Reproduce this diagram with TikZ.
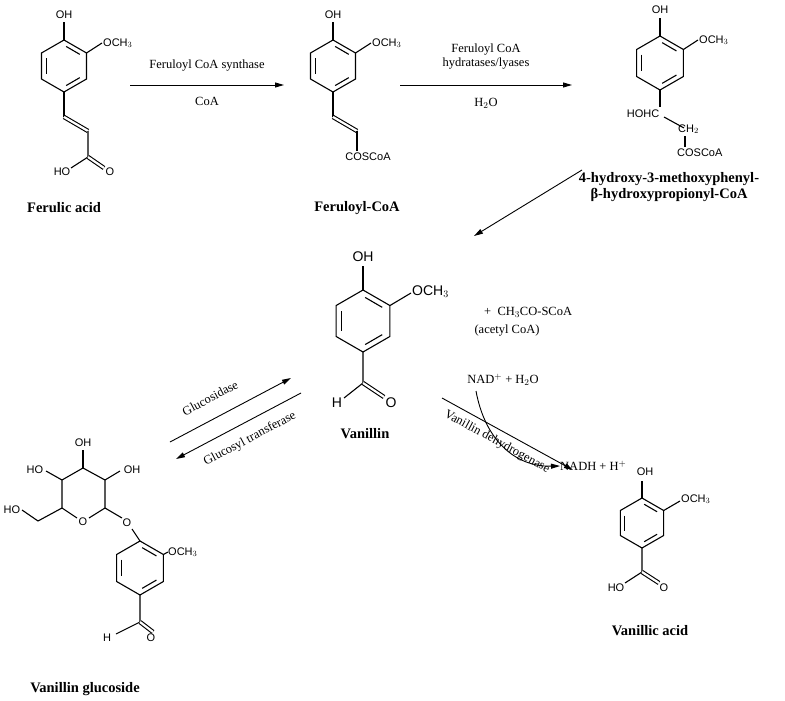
\documentclass[tikz,border=0pt]{standalone}
\usepackage{fontspec}
\setmainfont{Liberation Serif}
\setsansfont{Liberation Sans}
\usetikzlibrary{arrows.meta}
\tikzset{bond/.style={line width=1.1pt},
  dbl/.style={bond,double,double distance=2.2pt},
  atom/.style={inner sep=0pt,font=\sffamily\fontsize{11}{11}\selectfont},
  batom/.style={inner sep=0pt,font=\sffamily\fontsize{14}{14}\selectfont},
  cname/.style={inner sep=0pt,font=\bfseries\fontsize{14.5}{16}\selectfont,align=center},
  lbl/.style={inner sep=0pt,font=\fontsize{12.5}{14}\selectfont,align=center},
  arrow/.style={line width=0.9pt,-{Triangle[length=9pt,width=5pt]}}}
% benzene ring with vertex up: centre x, centre y, radius
\newcommand\benz[3]{%
  \draw[bond] (#1,#2-#3) -- (#1+0.866*#3,#2-0.5*#3) -- (#1+0.866*#3,#2+0.5*#3)
    -- (#1,#2+#3) -- (#1-0.866*#3,#2+0.5*#3) -- (#1-0.866*#3,#2-0.5*#3) -- cycle;
  \draw[bond,shorten <=2.5pt,shorten >=2.5pt] (#1-0.69*#3,#2-0.4*#3) -- (#1-0.69*#3,#2+0.4*#3);
  \draw[bond,shorten <=2.5pt,shorten >=2.5pt] (#1,#2-0.8*#3) -- (#1+0.69*#3,#2-0.4*#3);
  \draw[bond,shorten <=2.5pt,shorten >=2.5pt] (#1+0.69*#3,#2+0.4*#3) -- (#1,#2+0.8*#3);
}
\begin{document}
\begin{tikzpicture}[x=1pt,y=-1pt]
\useasboundingbox (0,0) rectangle (785,701);
% Ferulic acid
\benz{64}{66}{26}
\draw[bond] (64,40) -- (64,22);
\node[atom] (fa-oh) at (64,15) {OH};
\draw[bond] (86.5,53) -- (102,43);
\node[atom,anchor=west] (fa-och) at (103,43) {OCH$_3$};
\draw[bond] (64,92) -- (64,117);
\draw[dbl] (64,117) -- (88,131);
\draw[bond] (88,131) -- (88,157) -- (71,168);
\draw[dbl] (88,157) -- (104,168);
\node[atom] (fa-ho) at (62,172) {HO};
\node[atom] (fa-o) at (110,172) {O};
\node[cname] (ferulic) at (64,208) {Ferulic acid};
% Feruloyl-CoA
\benz{333}{66}{26}
\draw[bond] (333,40) -- (333,22);
\node[atom] (fc-oh) at (333,15) {OH};
\draw[bond] (355.5,53) -- (371,43);
\node[atom,anchor=west] (fc-och) at (372,43) {OCH$_3$};
\draw[bond] (333,92) -- (333,117);
\draw[dbl] (333,117) -- (357,131);
\draw[bond] (357,131) -- (357,151);
\node[atom] (fc-cos) at (368,157) {COSCoA};
\node[cname] (feruloyl) at (357,208) {Feruloyl-CoA};
% 4-hydroxy-3-methoxyphenyl-beta-hydroxypropionyl-CoA
\benz{660}{63}{27}
\draw[bond] (660,36) -- (660,18);
\node[atom] (hp-oh) at (660,10) {OH};
\draw[bond] (683.4,49.5) -- (698,40);
\node[atom,anchor=west] (hp-och) at (699,40) {OCH$_3$};
\draw[bond] (660,90) -- (660,107);
\node[atom] (hp-hohc) at (643,114) {HOHC};
\draw[bond] (664,117) -- (684,128);
\node[atom,anchor=west] (hp-ch) at (678,129) {CH$_2$};
\draw[bond] (685,136) -- (685,147);
\node[atom,anchor=west] (hp-cos) at (677,153) {COSCoA};
\node[cname] (hydroxy) at (669,187) {4-hydroxy-3-methoxyphenyl-\\β-hydroxypropionyl-CoA};
% Vanillin
\benz{363}{321}{31}
\draw[bond] (363,290) -- (363,266);
\node[batom] (va-oh) at (363,257) {OH};
\draw[bond] (390,305.5) -- (411,293);
\node[batom,anchor=west] (va-och) at (412,292) {OCH$_3$};
\draw[bond] (363,352) -- (363,383) -- (344,398);
\draw[dbl] (363,383) -- (384,397);
\node[batom] (va-h) at (337,403) {H};
\node[batom] (va-o) at (391,403) {O};
\node[cname] (vanillin) at (365,434) {Vanillin};
\node[lbl,anchor=west] (acetyl) at (484,312) {+\ \ CH$_3$CO-SCoA};
\node[lbl] (acetyl2) at (507,331) {(acetyl CoA)};
% Vanillin glucoside
\draw[bond] (83,468) -- (105,480) -- (105,508) -- (89,518);
\draw[bond] (77,518) -- (62,508) -- (62,480) -- (83,468);
\node[atom] (gl-o) at (83,522) {O};
\draw[bond] (83,468) -- (83,450);
\node[atom] (gl-oh1) at (83,443) {OH};
\draw[bond] (62,480) -- (46,471);
\node[atom] (gl-oh2) at (35,470) {HO};
\draw[bond] (105,480) -- (120,471);
\node[atom] (gl-oh3) at (132,470) {OH};
\draw[bond] (62,508) -- (38,521) -- (22,510);
\node[atom] (gl-oh4) at (12,510) {HO};
\draw[bond] (105,508) -- (122,518);
\node[atom] (gl-oo) at (127,523) {O};
\draw[bond] (132,529) -- (140,541);
\benz{140}{568}{27}
\draw[bond] (163.4,554.5) -- (168,552);
\node[atom,anchor=west] (gl-och) at (168,552) {OCH$_3$};
\draw[bond] (140,595) -- (140,622) -- (116,634);
\draw[dbl] (140,622) -- (153,632);
\node[atom] (gl-h) at (107,638) {H};
\node[atom] (gl-od) at (151,638) {O};
\node[cname] (glucoside) at (85,689) {Vanillin glucoside};
% Vanillic acid
\benz{642}{523}{25}
\draw[bond] (642,498) -- (642,481);
\node[atom] (vc-oh) at (645,472) {OH};
\draw[bond] (663.7,510.5) -- (680,501);
\node[atom,anchor=west] (vc-och) at (681,499) {OCH$_3$};
\draw[bond] (642,548) -- (642,572) -- (625,583);
\draw[dbl] (642,572) -- (659,583);
\node[atom] (vc-ho) at (616,588) {HO};
\node[atom] (vc-o) at (664,588) {O};
\node[cname] (vanillic) at (650,631) {Vanillic acid};
% reaction arrows
\coordinate (r1a) at (130,85); \coordinate (r1b) at (284,85);
\draw[arrow] (r1a) -- (r1b);
\node[lbl] (syn) at (207,66) {Feruloyl CoA synthase};
\node[lbl] (coa) at (207,101) {CoA};
\coordinate (r2a) at (400,85); \coordinate (r2b) at (572,85);
\draw[arrow] (r2a) -- (r2b);
\node[lbl] (hyd) at (486,57) {Feruloyl CoA\\hydratases/lyases};
\node[lbl] (water) at (486,103) {H$_2$O};
\coordinate (r3a) at (582,170); \coordinate (r3b) at (474,236);
\draw[arrow] (r3a) -- (r3b);
\coordinate (r4a) at (170,442); \coordinate (r4b) at (291,378);
\draw[arrow] (r4a) -- (r4b);
\coordinate (r5a) at (301,393); \coordinate (r5b) at (176,459);
\draw[arrow] (r5a) -- (r5b);
\node[lbl,rotate=28] (gase) at (210,398) {Glucosidase};
\node[lbl,rotate=28] (gtrans) at (250,439) {Glucosyl transferase};
\coordinate (r6a) at (442,398); \coordinate (r6b) at (573,470);
\draw[arrow] (r6a) -- (r6b);
\node[lbl,rotate=-28.5] (dehyd) at (497,442) {Vanillin dehydrogenase};
\node[lbl] (nad) at (503,380) {NAD$^+$ + H$_2$O};
\node[lbl,anchor=west] (nadh) at (560,466) {NADH + H$^+$};
\draw[arrow] (476,391) .. controls (485,440) and (515,467) .. (nadh.west);
\end{tikzpicture}
\end{document}
